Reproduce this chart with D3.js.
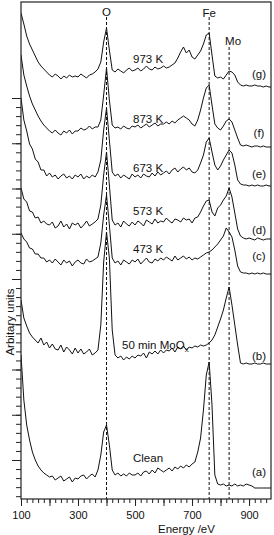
<!DOCTYPE html>
<html><head><meta charset="utf-8">
<script src="https://cdn.jsdelivr.net/npm/d3@7/dist/d3.min.js"></script>
<style>body{margin:0;background:#fff}svg{display:block;font-family:"Liberation Sans",Arial,Helvetica,sans-serif}</style>
</head><body><svg id="c" width="274" height="535"></svg>
<script>
// ---------- DATA ----------
// kinetic energy grid (eV), 10 eV steps, 100 .. 980
const energy = d3.range(100, 990, 10);
// AES intensities (arbitrary units, stacked with offsets as in the figure)
const specA = [144,99,74,59,47,39,33,29,26,24,
 22,23,19,21,23,18,20,22,17,21,
 20,23,24,20,23,25,22,29,44,67,
 74,54,29,24,26,23,25,23,26,24,
 24,26,23,27,28,25,29,26,31,29,
 27,29,31,28,32,30,33,31,34,32,
 35,37,47,61,89,124,137,94,24,15,
 14,15,13,14,13,15,13,14,13,15,
 14,13,11,11,11,11,11,11,11];
const specB = [199,181,173,166,162,159,156,161,154,157,
 151,155,150,149,154,147,152,149,145,151,
 146,150,145,147,150,144,146,149,174,237,
 267,241,169,144,141,143,139,142,140,143,
 141,144,143,146,141,147,145,148,145,149,
 146,149,148,151,147,152,150,153,149,152,
 151,153,152,154,153,154,156,159,164,172,
 180,189,201,212,194,174,154,136,135,136,
 135,135,136,135,135,136,135,135,135];
const specC = [266,260,257,251,250,245,245,241,241,237,
 239,236,240,237,234,239,236,238,233,237,
 239,236,235,240,237,238,240,242,256,284,
 304,274,241,236,238,234,239,237,235,239,
 237,240,235,238,241,237,236,240,238,241,
 239,242,240,238,243,239,241,243,240,242,
 239,241,240,242,244,246,247,249,252,255,
 259,263,271,267,262,249,233,227,226,226,
 225,226,225,226,225,226,225,225,225];
const specD = [311,300,297,288,287,281,282,276,278,275,
 274,277,271,273,278,272,275,270,276,274,
 276,271,274,278,273,275,277,280,294,324,
 347,314,279,274,276,272,278,275,273,277,
 274,278,276,273,279,277,275,280,276,278,
 277,281,278,276,280,279,277,281,279,280,
 276,281,282,287,293,298,299,287,283,291,
 294,299,303,311,302,286,270,263,261,260,
 261,260,259,261,260,259,260,260,260];
const specE = [401,379,368,355,350,340,337,329,329,323,
 326,322,324,320,323,325,321,323,320,324,
 322,325,320,323,321,324,322,327,339,369,
 391,359,327,323,325,321,324,322,320,325,
 322,324,321,325,323,322,326,323,327,324,
 326,328,325,329,331,327,330,332,329,331,
 327,326,329,336,344,357,361,347,334,329,
 333,339,344,349,346,334,319,315,314,314,
 313,314,313,314,313,313,314,313,313];
const specF = [444,424,413,403,395,389,383,378,374,371,
 368,366,369,366,364,368,366,369,365,368,
 368,371,369,370,373,370,372,372,379,404,
 431,399,374,371,372,370,373,371,370,373,
 372,374,371,373,375,372,374,376,373,375,
 375,377,375,378,376,379,381,383,381,379,
 375,373,379,389,401,411,414,394,375,371,
 369,373,378,380,377,369,361,354,353,354,
 353,352,353,353,352,353,352,352,352];
const specG = [486,475,463,455,449,443,437,433,430,427,
 424,422,425,423,420,423,421,424,422,423,
 422,425,423,421,424,425,427,430,437,457,
 471,449,429,427,430,428,426,429,431,428,
 429,431,428,430,433,430,429,432,430,431,
 433,431,432,434,436,441,447,452,446,449,
 442,440,444,448,455,464,466,444,423,421,
 422,420,424,428,427,424,417,414,413,414,
 413,413,414,413,413,412,413,412,412];
const spectra = [specA, specB, specC, specD, specE, specF, specG];
const seriesLetters = ["(a)","(b)","(c)","(d)","(e)","(f)","(g)"];
const seriesNames = ["Clean","50 min MoO","473 K","573 K","673 K","873 K","973 K"];
// reference peak energies (eV) and their element labels
const peakEnergies = [400, 760, 830];
const peakNames = ["O", "Fe", "Mo"];
// x-axis tick labels
const xTickLabels = [100, 300, 500, 700, 900];
const xTitle = "Energy /eV";
const yTitle = "Arbitary units";

// ---------- LAYOUT ----------
const L = 21, R = 271, T = 2, B = 499;
const svg = d3.select("#c");
const x = d3.scaleLinear().domain([100, 977]).range([L, R]);
const y = d3.scaleLinear().domain([0, 497]).range([B, T]);

svg.append("defs").append("clipPath").attr("id", "clip")
  .append("rect").attr("x", L).attr("y", T).attr("width", R - L).attr("height", B - T);

// dashed reference lines
const dashTops = [17, 17, 47];
const gd = svg.append("g");
peakEnergies.forEach((e, i) => {
  gd.append("line").attr("x1", x(e)).attr("x2", x(e))
    .attr("y1", dashTops[i]).attr("y2", B)
    .attr("stroke", "#111").attr("stroke-width", 1).attr("stroke-dasharray", "3,2");
});
const peakLabelPos = [[0, 15.5], [0, 16.5], [4, 45]];
peakNames.forEach((n, i) => {
  svg.append("text").attr("x", x(peakEnergies[i]) + peakLabelPos[i][0]).attr("y", peakLabelPos[i][1])
    .attr("text-anchor", "middle").attr("font-size", 11.5).attr("fill", "#111").text(n);
});

// spectra
const line = d3.line().x((d, i) => x(energy[i])).y(d => y(d));
const gs = svg.append("g").attr("clip-path", "url(#clip)");
spectra.forEach(s => {
  gs.append("path").datum(s).attr("d", line)
    .attr("fill", "none").attr("stroke", "#111").attr("stroke-width", 1).attr("stroke-linejoin", "round");
});

// spectrum labels
const nameBaselines = [462, 349, 253, 215, 172, 123, 63];
const nameX = [133, 122, 133, 133, 133, 133, 133];
seriesNames.forEach((n, i) => {
  const t = svg.append("text").attr("x", nameX[i]).attr("y", nameBaselines[i])
    .attr("font-size", 11.5).attr("fill", "#111").text(n);
  if (i === 1) t.append("tspan").attr("font-size", 8).attr("dy", 2.5).text("x");
});
const letterBaselines = [476, 360, 260, 234, 178, 137, 78];
seriesLetters.forEach((n, i) => {
  svg.append("text").attr("x", 259).attr("y", letterBaselines[i]).attr("text-anchor", "middle")
    .attr("font-size", 11.5).attr("fill", "#111").text(n);
});

// frame
svg.append("rect").attr("x", L).attr("y", T).attr("width", R - L).attr("height", B - T)
  .attr("fill", "none").attr("stroke", "#222").attr("stroke-width", 1.2);

// x axis
const xMinor = d3.axisBottom(x).tickValues(d3.range(100, 977, 20)).tickSize(4).tickFormat("");
const xMajor = d3.axisBottom(x).tickValues(d3.range(100, 901, 100)).tickSize(7).tickPadding(5)
  .tickFormat(d => xTickLabels.includes(d) ? d : "");
[xMinor, xMajor].forEach(ax => {
  const g = svg.append("g").attr("transform", `translate(0,${B})`).call(ax);
  g.select(".domain").remove();
  g.selectAll("line").attr("stroke", "#222").attr("stroke-width", 1);
  g.selectAll("text").attr("font-size", 11).attr("fill", "#111")
    .attr("font-family", '"Liberation Sans",Arial,sans-serif');
});
svg.append("text").attr("x", 186.5).attr("y", 532.5).attr("text-anchor", "middle")
  .attr("font-size", 11.5).attr("fill", "#111").text(xTitle);

// y axis (unlabelled ticks)
const yMinorVals = d3.range(-4, 41).map(k => 39 + k * 9.05);
const yMajorVals = d3.range(0, 9).map(k => 39 + k * 45.25);
[[yMinorVals, 5], [yMajorVals, 9]].forEach(([vals, size]) => {
  const g = svg.append("g").attr("transform", `translate(${L},0)`)
    .call(d3.axisLeft(y).tickValues(vals).tickSize(size).tickFormat(""));
  g.select(".domain").remove();
  g.selectAll("line").attr("stroke", "#222").attr("stroke-width", 1);
});
svg.append("text").attr("transform", "translate(13.5,322) rotate(-90)").attr("text-anchor", "middle")
  .attr("font-size", 11.5).attr("fill", "#111").text(yTitle);
</script></body></html>
